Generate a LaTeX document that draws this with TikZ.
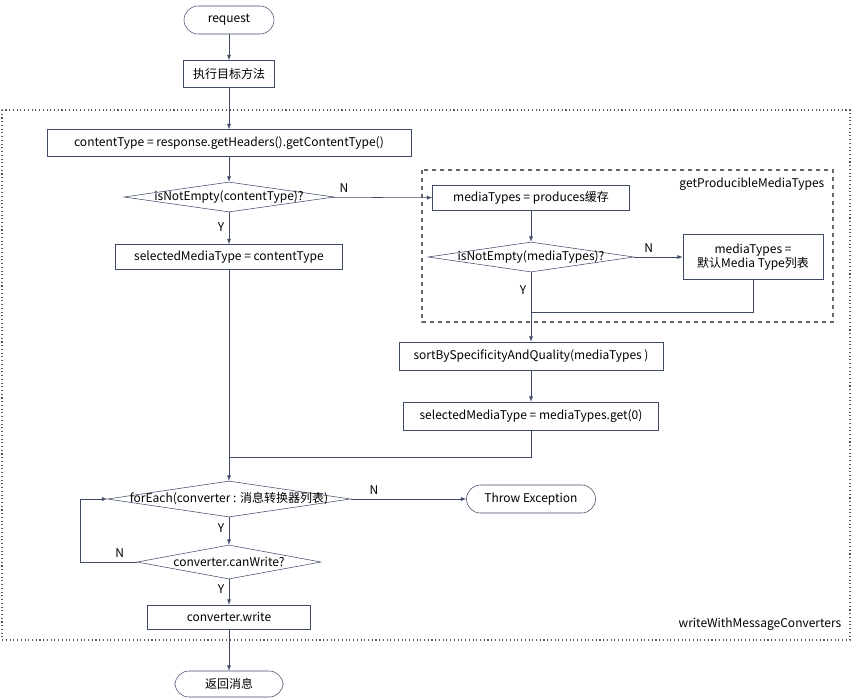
\documentclass[tikz,border=0pt]{standalone}
\usepackage{fontspec}
\setmainfont{Noto Sans CJK SC}
\usetikzlibrary{arrows,shapes.geometric,positioning}
\definecolor{edge}{HTML}{3F4A68}
\tikzset{box/.style={draw=edge, fill=white, font=\fontsize{9}{11}\selectfont, align=center, inner sep=2pt},
term/.style={box, rounded corners=14*0.75pt, minimum height=28*0.75pt},
dec/.style={draw=edge, fill=white, diamond, inner sep=0pt, label={[lbl]center:#1}},
lbl/.style={font=\fontsize{9}{11}\selectfont},
arr/.style={draw=edge, -latex}}
\begin{document}
\begin{tikzpicture}[x=0.75pt,y=-0.75pt]
  \useasboundingbox (0,0) rectangle (852,697);

  \draw[dotted, thick, draw=gray!70!black] (2,110) rectangle (850,640);
  \node[lbl, anchor=south east] at (846,635) {writeWithMessageConverters};
  \draw[dashed, thick, draw=gray!80!black] (422,170) rectangle (833,322);
  \node[lbl, anchor=north east] at (829,173) {getProducibleMediaTypes};

  \node[term, minimum width=90*0.75pt] (req) at (229,20) {request};
  \node[box, minimum width=91*0.75pt, minimum height=27*0.75pt] (exe) at (229,74) {执行目标方法};
  \node[box, minimum width=364*0.75pt, minimum height=27*0.75pt] (ct) at (229,143) {contentType = response.getHeaders().getContentType()};
  \node[dec={isNotEmpty(contentType)?}, minimum width=210*0.75pt, minimum height=30*0.75pt] (d1) at (229,197) {};
  \node[box, minimum width=227*0.75pt, minimum height=25*0.75pt] (sel1) at (229,257) {selectedMediaType = contentType};
  \node[box, minimum width=197*0.75pt, minimum height=25*0.75pt] (mt) at (531,198) {mediaTypes = produces缓存};
  \node[dec={isNotEmpty(mediaTypes)?}, minimum width=206*0.75pt, minimum height=30*0.75pt] (d2) at (531,257) {};
  \node[box, minimum width=140*0.75pt, minimum height=45*0.75pt] (def) at (753,257) {mediaTypes =\\默认Media Type列表};
  \node[box, minimum width=264*0.75pt, minimum height=28*0.75pt] (sort) at (531,356) {sortBySpecificityAndQuality(mediaTypes )};
  \node[box, minimum width=255*0.75pt, minimum height=28*0.75pt] (sel2) at (531,416) {selectedMediaType = mediaTypes.get(0)};
  \node[dec={forEach(converter : 消息转换器列表)}, minimum width=243*0.75pt, minimum height=36*0.75pt] (loop) at (229,499) {};
  \node[term, minimum width=129*0.75pt] (thr) at (531,499) {Throw Exception};
  \node[dec={converter.canWrite?}, minimum width=184*0.75pt, minimum height=34*0.75pt] (cw) at (229,562) {};
  \node[box, minimum width=163*0.75pt, minimum height=24*0.75pt] (wr) at (229,617) {converter.write};
  \node[term, minimum width=108*0.75pt, minimum height=26*0.75pt] (ret) at (229,684) {返回消息};

  \coordinate (j1) at (531,312);
  \coordinate (j2) at (229,457);
  \coordinate (j3) at (80,562);

  \draw[arr] (req) -- (exe);
  \draw[arr] (exe) -- (ct);
  \draw[arr] (ct) -- (d1);
  \draw[arr] (d1) -- node[lbl, above, pos=0.12] {N} (mt);
  \draw[arr] (d1) -- node[lbl, left, pos=0.45] {Y} (sel1);
  \draw[arr] (mt) -- (d2);
  \draw[arr] (d2) -- node[lbl, above, pos=0.3] {N} (def);
  \draw[arr] (d2) -- node[lbl, left, pos=0.25] {Y} (sort);
  \draw[edge] (def.south) |- (j1);
  \draw[arr] (sort) -- (sel2);
  \draw[edge] (sel2.south) |- (j2);
  \draw[arr] (sel1) -- (loop);
  \draw[arr] (loop) -- node[lbl, above, pos=0.2] {N} (thr);
  \draw[arr] (loop) -- node[lbl, left, pos=0.4] {Y} (cw);
  \draw[arr] (cw.west) -- (j3) node[lbl, pos=0.3, above] {N} |- (loop.west);
  \draw[arr] (cw) -- node[lbl, left, pos=0.4] {Y} (wr);
  \draw[arr] (wr) -- (ret);
\end{tikzpicture}
\end{document}
